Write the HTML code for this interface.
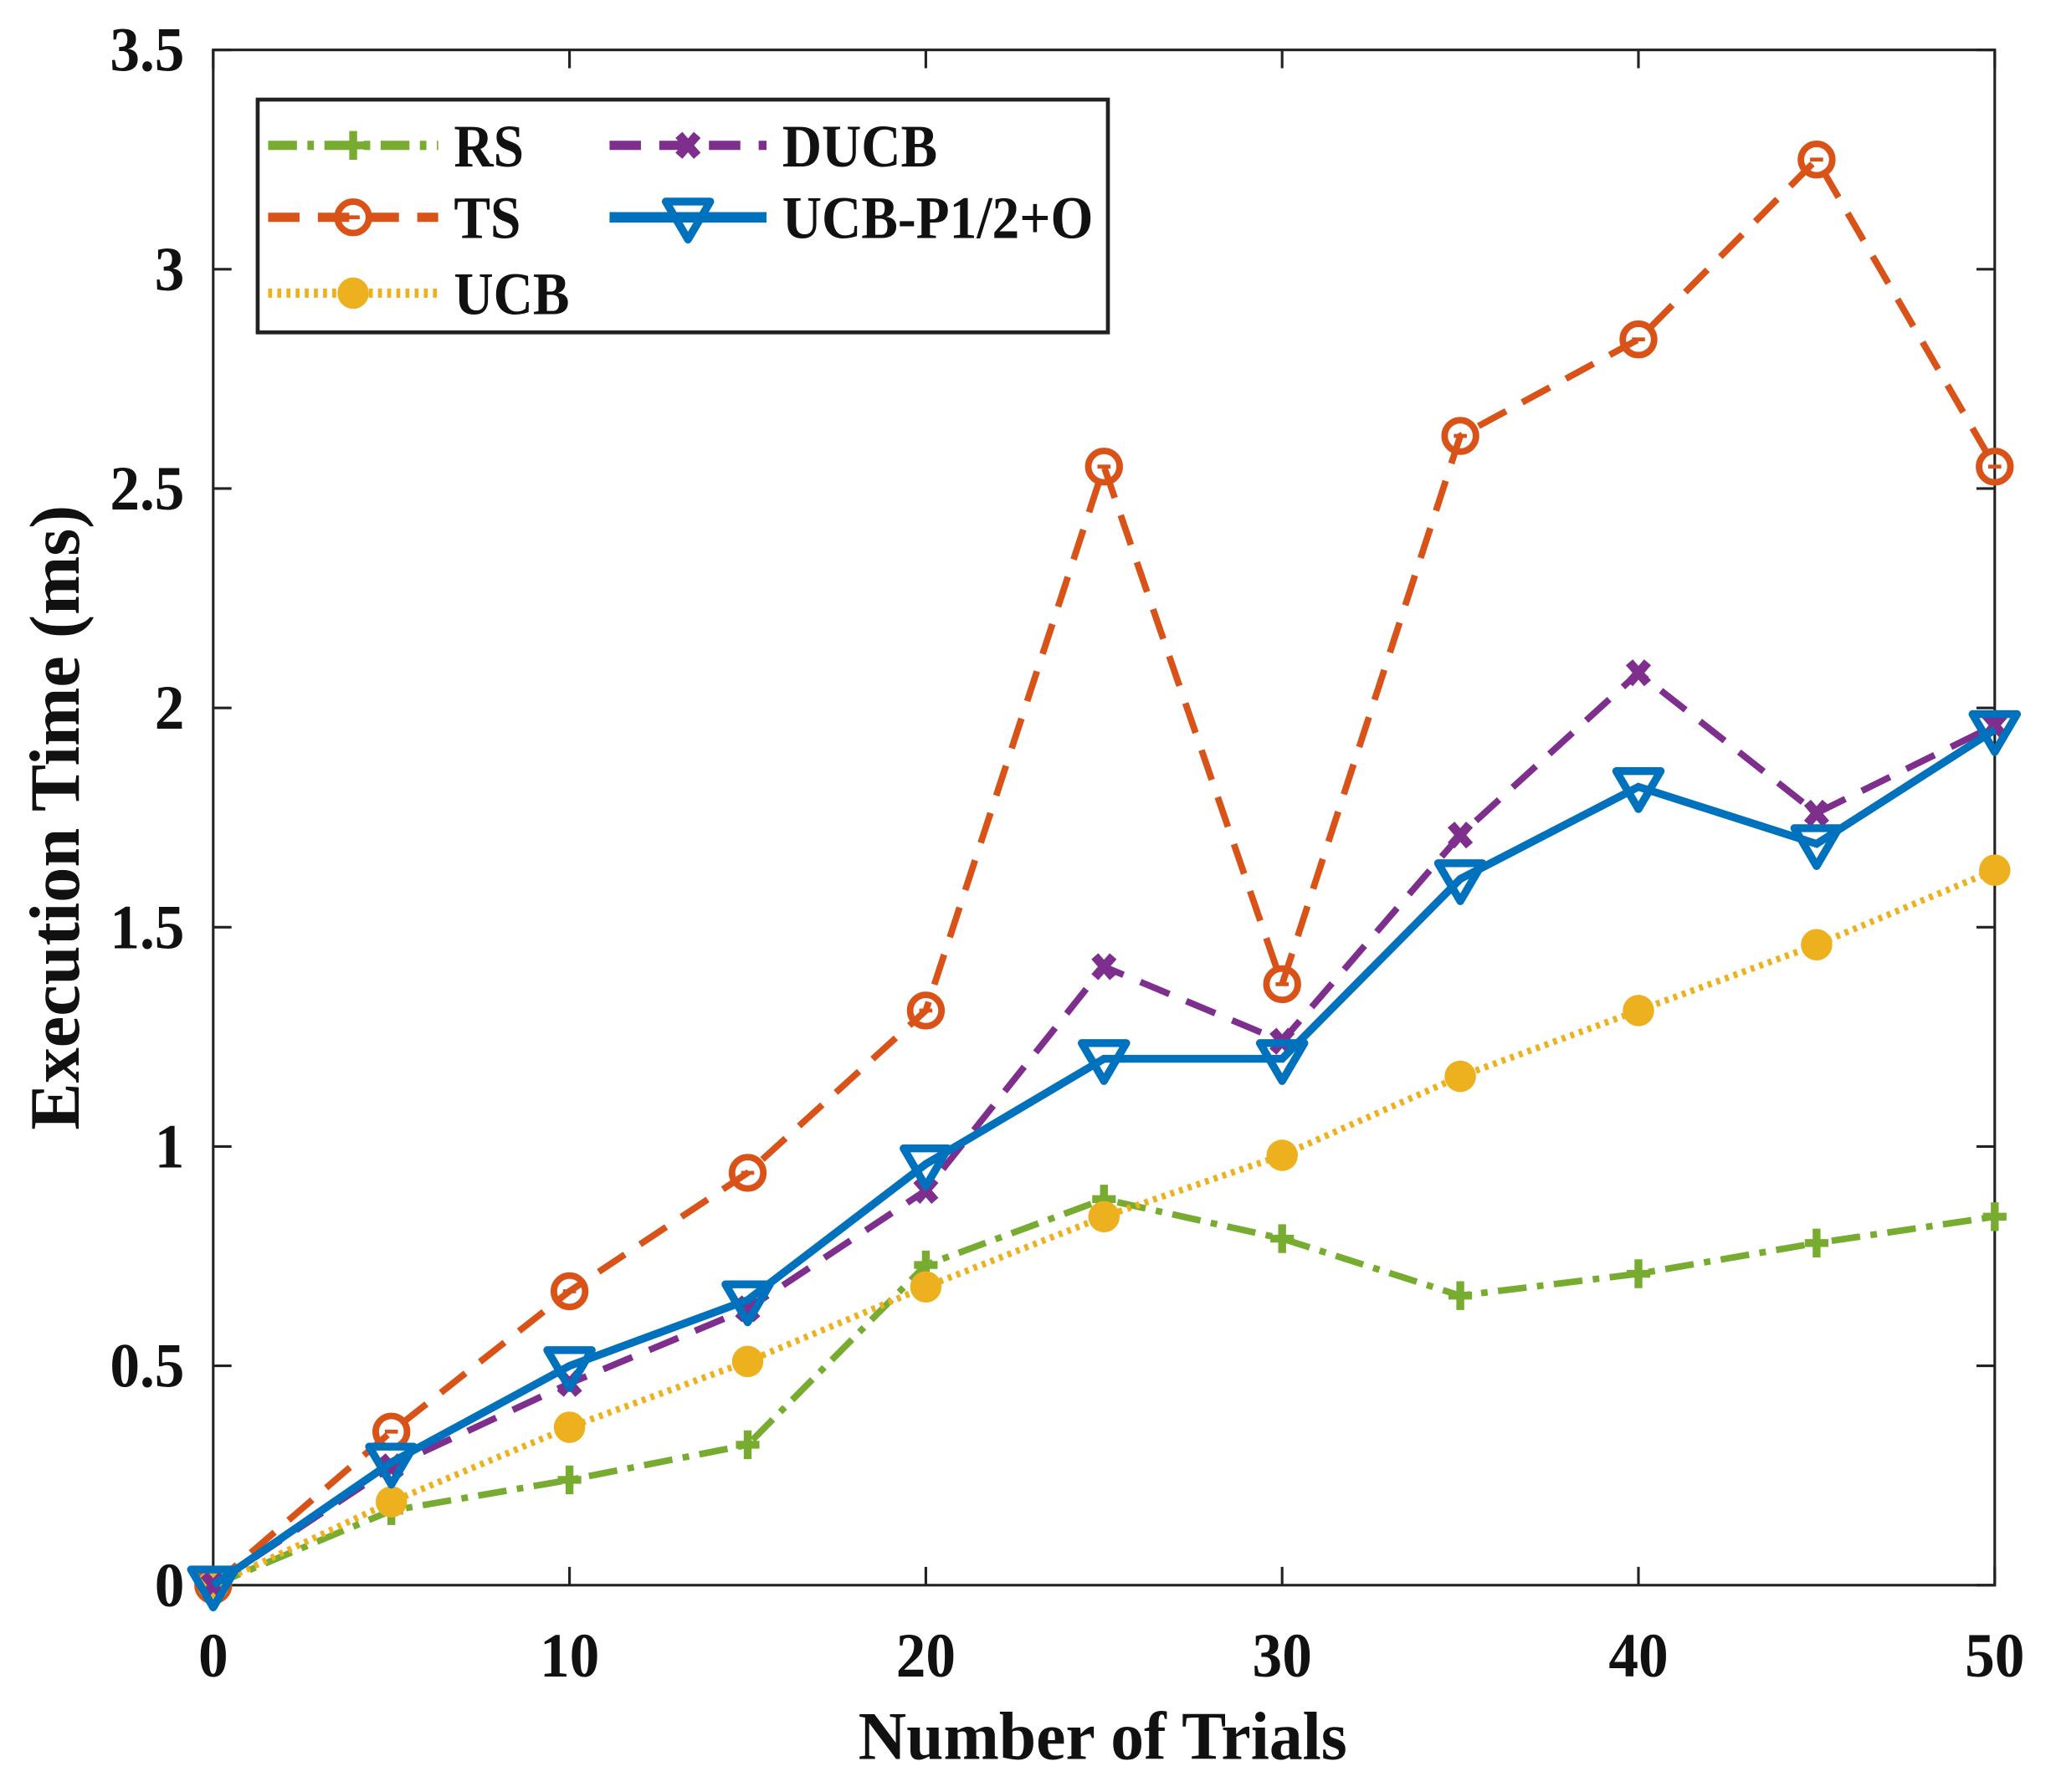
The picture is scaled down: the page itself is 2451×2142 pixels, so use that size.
<!DOCTYPE html>
<html><head><meta charset="utf-8"><style>
html,body{margin:0;padding:0;background:#fff;}
svg{display:block;}
text{font-family:"Liberation Serif",serif;font-weight:bold;fill:#111;}
</style></head><body>
<svg id="c" width="2451" height="2142" viewBox="0 0 1568 1370" xmlns="http://www.w3.org/2000/svg">
<rect x="163" y="38" width="1362" height="1174" fill="#fff" stroke="#222" stroke-width="2"/>
<g id="ticks"></g>
<g id="series"></g>
<rect x="197" y="76" width="650" height="178" fill="#fff" stroke="#222" stroke-width="3"/>
<g id="legend"></g>
<text transform="translate(60,625) rotate(-90) scale(1.0,1)" text-anchor="middle" font-size="54">Execution Time (ms)</text>
<text transform="translate(843,1345) scale(0.98,1)" text-anchor="middle" font-size="52">Number of Trials</text>
</svg>
<script>
const NS="http://www.w3.org/2000/svg";
function el(t,a,p){const e=document.createElementNS(NS,t);for(const k in a)e.setAttribute(k,a[k]);p.appendChild(e);return e;}
const X=v=>163+v*27.24, Y=v=>1212-v*335.43;
const tk=document.getElementById('ticks');
for(let v=0;v<=50;v+=10){el('line',{x1:X(v),x2:X(v),y1:1212,y2:1198,stroke:'#222','stroke-width':2},tk);el('line',{x1:X(v),x2:X(v),y1:38,y2:52,stroke:'#222','stroke-width':2},tk);
 const t=el('text',{transform:`translate(${X(v)},1282) scale(0.95,1)`,'text-anchor':'middle','font-size':48},tk);t.textContent=v;}
for(let i=0;i<=7;i++){const v=i*0.5;el('line',{x1:163,x2:177,y1:Y(v),y2:Y(v),stroke:'#222','stroke-width':2},tk);el('line',{x1:1511,x2:1525,y1:Y(v),y2:Y(v),stroke:'#222','stroke-width':2},tk);
 const t=el('text',{transform:`translate(141,${Y(v)+16}) scale(0.95,1)`,'text-anchor':'end','font-size':48},tk);t.textContent=v;}
const xs=[0,5,10,15,20,25,30,35,40,45,50];
const S=[
 {n:'RS',c:'#77AC30',d:[0,0.17,0.24,0.32,0.73,0.88,0.79,0.66,0.71,0.78,0.84],dash:'22 8 5 8',m:'plus',w:5},
 {n:'TS',c:'#D95319',d:[0,0.35,0.67,0.94,1.31,2.55,1.37,2.62,2.84,3.25,2.55],dash:'24 14',m:'circ',w:5},
 {n:'UCB',c:'#EDB120',d:[0,0.19,0.36,0.51,0.68,0.84,0.98,1.16,1.31,1.46,1.63],dash:'3 4',m:'dot',w:5},
 {n:'DUCB',c:'#7E2F8E',d:[0,0.27,0.46,0.63,0.9,1.41,1.24,1.71,2.08,1.76,1.96],dash:'24 14',m:'x',w:5},
 {n:'UCB-P1/2+O',c:'#0072BD',d:[0,0.28,0.5,0.65,0.96,1.2,1.2,1.61,1.82,1.69,1.95],dash:'',m:'tri',w:6}];
function mark(m,x,y,c,g){
 if(m==='plus'){el('path',{d:`M${x-9} ${y}H${x+9}M${x} ${y-11}V${y+11}`,stroke:c,'stroke-width':6},g);}
 else if(m==='circ'){el('circle',{cx:x,cy:y,r:12,fill:'none',stroke:c,'stroke-width':5},g);el('line',{x1:x-5,x2:x+5,y1:y,y2:y,stroke:c,'stroke-width':3},g);}
 else if(m==='dot'){el('circle',{cx:x,cy:y,r:12,fill:c},g);}
 else if(m==='x'){el('path',{d:`M${x-7} ${y-8}L${x+7} ${y+8}M${x+7} ${y-8}L${x-7} ${y+8}`,stroke:c,'stroke-width':7},g);}
 else if(m==='tri'){el('path',{d:`M${x-17} ${y-12}H${x+17}L${x} ${y+17}Z`,fill:'none',stroke:c,'stroke-width':6,'stroke-linejoin':'round'},g);}
}
const sg=document.getElementById('series');
S.forEach(s=>{const pts=xs.map((x,i)=>X(x)+','+Y(s.d[i])).join(' ');
 el('polyline',{points:pts,fill:'none',stroke:s.c,'stroke-width':s.w,'stroke-dasharray':s.dash},sg);
 xs.forEach((x,i)=>mark(s.m,X(x),Y(s.d[i]),s.c,sg));});
const lg=document.getElementById('legend');
const pos=[[205,111],[205,166],[205,224],[466,111],[466,166]];
S.forEach((s,i)=>{const [x,y]=pos[i];const w=i<3?130:120;
 el('line',{x1:x,x2:x+w,y1:y,y2:y,stroke:s.c,'stroke-width':s.w+2,'stroke-dasharray':s.dash},lg);
 mark(s.m,x+w/2,y,s.c,lg);
 const t=el('text',{transform:`translate(${x+w+12},${y+16}) scale(0.91,1)`,'font-size':46},lg);t.textContent=s.n;});
</script>
</body></html>
